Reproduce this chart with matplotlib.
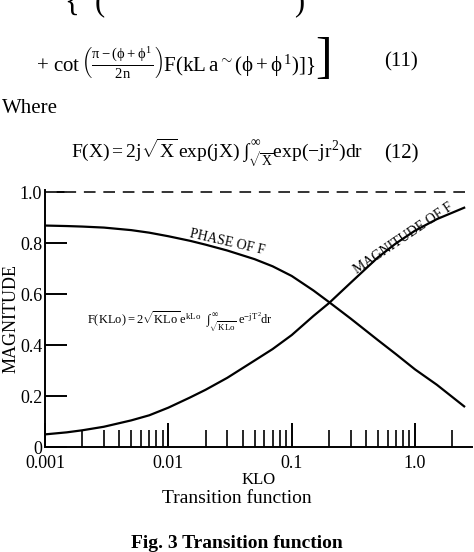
import matplotlib
matplotlib.use('Agg')
import matplotlib.pyplot as plt
from matplotlib.ticker import LogLocator, FixedLocator, NullFormatter

plt.rcParams['font.family'] = ['Liberation Serif', 'DejaVu Serif']
plt.rcParams['mathtext.fontset'] = 'custom'
plt.rcParams['mathtext.rm'] = 'Liberation Serif'
plt.rcParams['mathtext.it'] = 'Liberation Serif'
plt.rcParams['mathtext.bf'] = 'Liberation Serif:bold'

# values
klo = [0.001, 0.0015, 0.002, 0.003, 0.005, 0.007, 0.01, 0.015, 0.02, 0.03, 0.05, 0.07,
       0.1, 0.15, 0.2, 0.3, 0.5, 0.7, 1.0, 1.5, 2.5]
phase = [0.87, 0.868, 0.866, 0.862, 0.852, 0.842, 0.828, 0.81, 0.795, 0.772, 0.738, 0.71,
         0.672, 0.615, 0.57, 0.505, 0.42, 0.365, 0.305, 0.245, 0.16]
magnitude = [0.05, 0.058, 0.066, 0.08, 0.105, 0.125, 0.155, 0.195, 0.225, 0.272, 0.34, 0.385,
             0.44, 0.515, 0.565, 0.645, 0.745, 0.8, 0.85, 0.895, 0.94]
xticks = [0.001, 0.01, 0.1, 1.0]
xticklabels = ['0.001', '0.01', '0.1', '1.0']
yticks = [0, 0.2, 0.4, 0.6, 0.8, 1.0]
yticklabels = ['0', '0.2', '0.4', '0.6', '0.8', '1.0']

fig = plt.figure(figsize=(4.74, 5.52), dpi=100)
ax = fig.add_axes([0.095, 0.19, 0.901, 0.466])

ax.plot(klo, phase, color='black', lw=1.6)
ax.plot(klo, magnitude, color='black', lw=1.6)
ax.axhline(1.0, color='#333333', lw=1.4, ls=(0, (6, 4)))

ax.set_xscale('log')
ax.set_xlim(0.001, 2.9)
ax.set_ylim(0, 1.01)
ax.xaxis.set_major_locator(FixedLocator(xticks))
ax.set_xticklabels(xticklabels)
ax.xaxis.set_minor_locator(LogLocator(base=10, subs=range(2, 10)))
ax.xaxis.set_minor_formatter(NullFormatter())
ax.set_yticks(yticks)
ax.set_yticklabels(yticklabels)
ax.tick_params(axis='x', which='major', direction='in', length=17, width=1.4,
               labelsize=13, pad=6)
ax.tick_params(axis='x', which='minor', direction='in', length=12, width=1.2)
ax.tick_params(axis='y', direction='in', length=16, width=1.4, labelsize=13, pad=2)
for s in ['top', 'right']:
    ax.spines[s].set_visible(False)
for s in ['left', 'bottom']:
    ax.spines[s].set_linewidth(1.4)

ax.set_xlabel('KLO', fontsize=12, labelpad=0)
ax.set_ylabel('MAGNITUDE', fontsize=13, labelpad=0)

ax.text(0.03, 0.805, 'PHASE OF F', fontsize=10, rotation=-13, ha='center', va='center')
ax.text(0.8, 0.82, 'MAGNITUDE OF F', fontsize=10, rotation=34, ha='center', va='center')
ax.text(0.0022, 0.49,
        r'$\mathrm{F(KLo)}=2\sqrt{\mathrm{KLo}}\,\mathrm{e}^{kLo}\ \ \int_{\sqrt{KLo}}^{\infty}\ \mathrm{e}^{-jT^2}\mathrm{dr}$',
        fontsize=9, ha='left', va='center')

fig.text(0.5, 0.088, 'Transition function', fontsize=14, ha='center')
fig.text(0.5, 0.008, 'Fig. 3 Transition function', fontsize=14, ha='center', weight='bold')

# equation block above the chart
fig.text(0.135, 0.995, r'$\{\ \ (\qquad\qquad\qquad\qquad)$', fontsize=22, va='center')
fig.text(0.075, 0.888,
         r'$+\ \cot\left(\frac{\pi-(\phi+\phi^1}{2n}\right)F(kL\,a^{\sim}(\phi+\phi^1)]\}$',
         fontsize=15, va='center')
fig.text(0.665, 0.892, ']', fontsize=36, va='center')
fig.text(0.81, 0.888, '(11)', fontsize=15, va='center')
fig.text(0.005, 0.803, 'Where', fontsize=15, va='center')
fig.text(0.15, 0.722,
         r'$F(X)=2j\sqrt{X}\,\exp(jX)\ \int_{\sqrt{X}}^{\infty}\exp(-jr^2)dr$',
         fontsize=14, va='center')
fig.text(0.81, 0.722, '(12)', fontsize=15, va='center')

fig.savefig('out.png', dpi=100)
